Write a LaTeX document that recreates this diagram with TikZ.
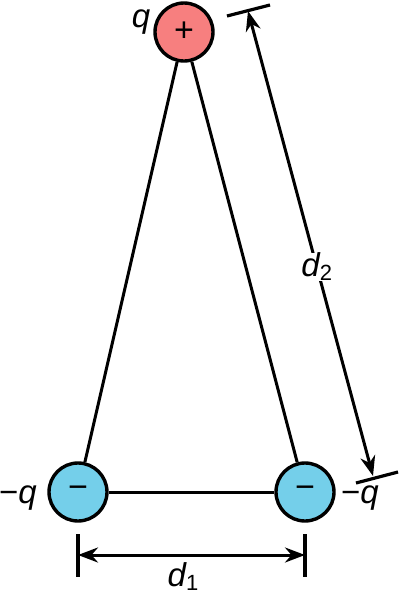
\documentclass[tikz,border=0pt]{standalone}
\usepackage{fontspec}
\setmainfont{Liberation Sans}
\usetikzlibrary{arrows.meta}
\definecolor{posred}{HTML}{F77F7F}
\definecolor{negblue}{HTML}{74CFEA}
\tikzset{
  charge/.style={circle, draw=black, line width=3.4pt, minimum size=58pt, inner sep=0pt, font=\fontsize{34}{34}\selectfont},
  rod/.style={line width=3pt},
  dimline/.style={line width=3pt, {Stealth[length=20pt,width=15pt]}-{Stealth[length=20pt,width=15pt]}},
  tick/.style={line width=3.2pt},
  lbl/.style={font=\fontsize{33}{33}\selectfont, inner sep=0pt},
  qlbl/.style={lbl, text height=17pt, text depth=7pt}
}
\newcommand{\dimlabel}[1]{{\itshape d}\raisebox{-4pt}{\fontsize{22}{22}\selectfont #1}}
\begin{document}
\begin{tikzpicture}[x=1pt, y=-1pt]
        \useasboundingbox (0,0) rectangle (400,595);

        % Charges
        \node[charge, fill=posred] (pos) at (184,32) {+};
        \node[charge, fill=negblue] (negL) at (78,492) {−};
        \node[charge, fill=negblue] (negR) at (305,492) {−};

        % Charge labels
        \node[qlbl, anchor=base] (qpos) at (141,27) {\itshape q};
        \node[qlbl, anchor=base] (qL) at (18,503) {−\itshape q};
        \node[qlbl, anchor=base] (qR) at (360,503) {−\itshape q};

        % Connecting lines
        \draw[rod] (pos) -- (negL);
        \draw[rod] (pos) -- (negR);
        \draw[rod] (negL) -- (negR);

        % Dimension d1
        \coordinate (d1a) at (78,555);
        \coordinate (d1b) at (305,555);
        \draw[tick] (78,534) -- (78,577);
        \draw[tick] (305,534) -- (305,577);
        \draw[dimline] (d1a) -- (d1b);
        \node[lbl, anchor=base, text depth=5pt] (d1lbl) at (183,586) {\dimlabel{1}};

        % Dimension d2
        \coordinate (d2a) at (248,11);
        \coordinate (d2b) at (373,476);
        \draw[tick] (227,16) -- (270,5);
        \draw[tick] (356,483) -- (398,472);
        \draw[dimline] (d2a) -- (d2b) node[pos=0.55, fill=white, inner sep=2pt, lbl] (d2lbl) {\dimlabel{2}};
    \end{tikzpicture}
\end{document}
